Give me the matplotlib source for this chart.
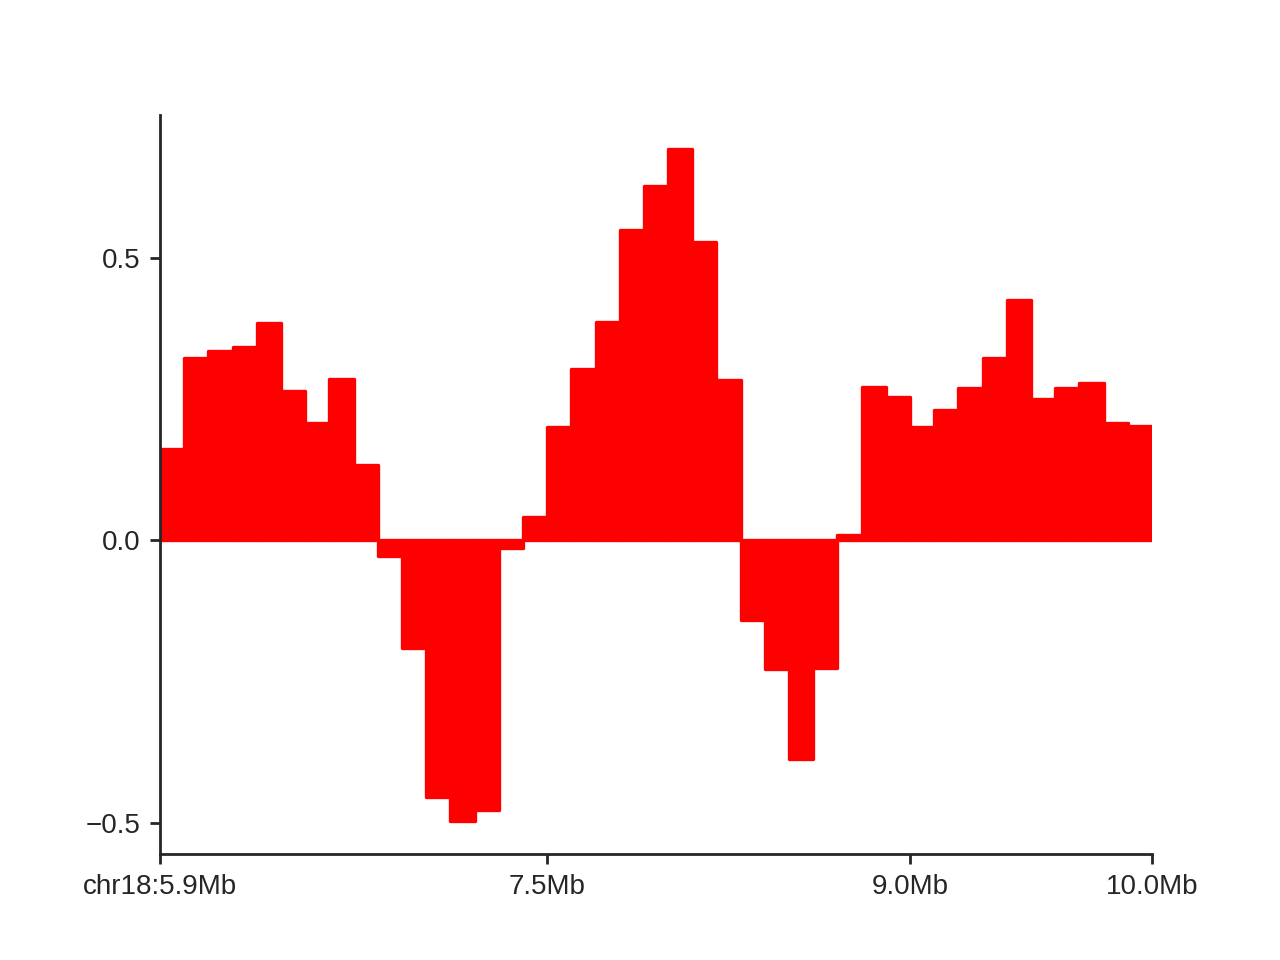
import matplotlib
matplotlib.use("Agg")
import matplotlib.pyplot as plt
import numpy as np

# 0.1Mb bins from 5.9Mb to 10.0Mb
bin_starts = np.round(np.arange(5.9, 10.0, 0.1), 2)
values = [0.161, 0.323, 0.336, 0.343, 0.385, 0.265, 0.207, 0.286, 0.134,
          -0.028, -0.191, -0.454, -0.496, -0.477, -0.014, 0.041, 0.201,
          0.304, 0.387, 0.549, 0.627, 0.693, 0.528, 0.284, -0.141, -0.228,
          -0.387, -0.226, 0.009, 0.272, 0.253, 0.201, 0.230, 0.270, 0.322,
          0.426, 0.251, 0.270, 0.279, 0.207, 0.203]
xticks = [5.9, 7.5, 9.0, 10.0]
xticklabels = ["chr18:5.9Mb", "7.5Mb", "9.0Mb", "10.0Mb"]
yticks = [-0.5, 0.0, 0.5]

plt.rcParams['font.family'] = ['Liberation Sans', 'DejaVu Sans']
plt.rcParams['text.color'] = '.15'
plt.rcParams['xtick.color'] = '.15'
plt.rcParams['ytick.color'] = '.15'
plt.rcParams['axes.edgecolor'] = '.15'
plt.rcParams['axes.linewidth'] = 1.0
plt.rcParams['xtick.major.width'] = 1.0
plt.rcParams['ytick.major.width'] = 1.0

fig, ax = plt.subplots(figsize=(6.4, 4.8), dpi=200)
bars = ax.bar(bin_starts, values, width=0.1, align='edge', color='red',
              edgecolor='red', linewidth=1.2)
for b in bars:
    b.set_joinstyle('round')

ax.set_xlim(5.9, 10.0)
ax.set_xticks(xticks)
ax.set_xticklabels(xticklabels)
ax.set_yticks(yticks)
ax.set_yticklabels(["\u22120.5", "0.0", "0.5"])
ax.spines['top'].set_visible(False)
ax.spines['right'].set_visible(False)

fig.savefig("out.png", dpi=200)
